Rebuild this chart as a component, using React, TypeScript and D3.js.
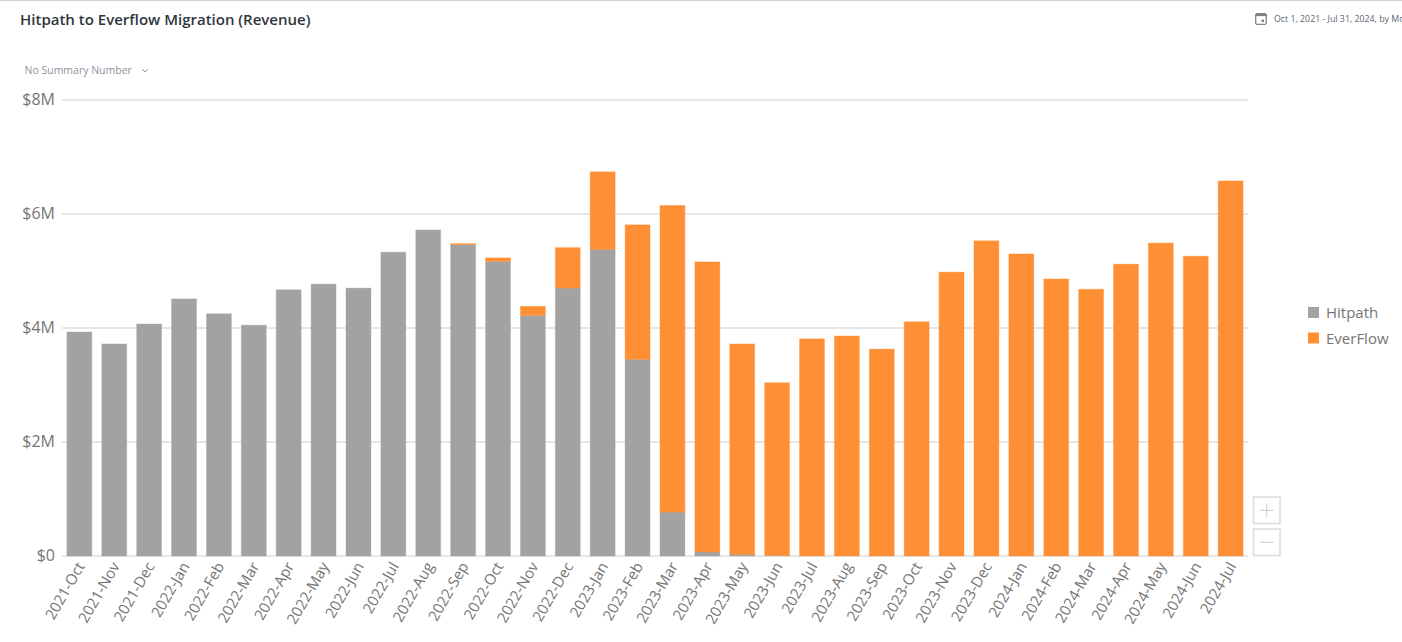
import React, { useEffect, useRef } from 'react';
import * as d3 from 'd3';

const months = [
  '2021-Oct', '2021-Nov', '2021-Dec', '2022-Jan', '2022-Feb', '2022-Mar', '2022-Apr', '2022-May', '2022-Jun',
  '2022-Jul', '2022-Aug', '2022-Sep', '2022-Oct', '2022-Nov', '2022-Dec', '2023-Jan', '2023-Feb', '2023-Mar',
  '2023-Apr', '2023-May', '2023-Jun', '2023-Jul', '2023-Aug', '2023-Sep', '2023-Oct', '2023-Nov', '2023-Dec',
  '2024-Jan', '2024-Feb', '2024-Mar', '2024-Apr', '2024-May', '2024-Jun', '2024-Jul',
];
const hitpath = [
  3.93, 3.72, 4.07, 4.51, 4.25, 4.05, 4.67, 4.77, 4.7, 5.33, 5.72, 5.46, 5.17, 4.22, 4.7, 5.38, 3.45, 0.77,
  0.07, 0.03, 0.01, 0, 0, 0, 0, 0, 0, 0, 0, 0, 0, 0, 0, 0,
];
const everflow = [
  0, 0, 0, 0, 0, 0, 0, 0, 0, 0, 0, 0.02, 0.06, 0.16, 0.71, 1.36, 2.36, 5.38,
  5.09, 3.69, 3.03, 3.81, 3.86, 3.63, 4.11, 4.98, 5.53, 5.3, 4.86, 4.68, 5.12, 5.49, 5.26, 6.58,
];
const yTicks = [0, 2, 4, 6, 8];
const seriesNames = ['Hitpath', 'EverFlow'];
const seriesColors = ['#a2a2a2', '#ff8f35'];

const FONT = '"Open Sans", sans-serif';

export default function App() {
  const svgRef = useRef<SVGSVGElement>(null);
  const width = 1402;
  const height = 642;

  useEffect(() => {
    if (!svgRef.current) return;
    const svg = d3.select(svgRef.current);
    svg.selectAll('*').remove();
    svg.attr('font-family', FONT);

    // top border of the card
    svg.append('rect').attr('width', width).attr('height', 1).attr('fill', '#cfcfcf');

    svg.append('text')
      .attr('x', 20).attr('y', 25)
      .attr('font-size', 15).attr('font-weight', 600).attr('fill', '#2f3540')
      .text('Hitpath to Everflow Migration (Revenue)');

    // calendar icon
    const cal = svg.append('g').attr('transform', 'translate(1255,12)');
    cal.append('rect').attr('x', 0.7).attr('y', 1.7).attr('width', 10.6).attr('height', 10.6).attr('rx', 1.5)
      .attr('fill', 'none').attr('stroke', '#7d838c').attr('stroke-width', 1.3);
    cal.append('rect').attr('x', 0.7).attr('y', 1.7).attr('width', 10.6).attr('height', 2.4).attr('fill', '#7d838c');
    cal.append('rect').attr('x', 6.5).attr('y', 7.5).attr('width', 2.5).attr('height', 2.5).attr('fill', '#7d838c');

    svg.append('text')
      .attr('x', 1274).attr('y', 22)
      .attr('font-size', 8.8).attr('fill', '#5d6470')
      .text('Oct 1, 2021 - Jul 31, 2024, by Month');

    svg.append('text')
      .attr('x', 24.5).attr('y', 74)
      .attr('font-size', 10.5).attr('fill', '#8d93a0')
      .text('No Summary Number');
    svg.append('path')
      .attr('d', 'M142 69 l3 3 l3 -3')
      .attr('fill', 'none').attr('stroke', '#8d93a0').attr('stroke-width', 1);

    const x = d3.scaleBand<string>()
      .domain(months)
      .range([62, 1248])
      .paddingInner(0.285)
      .paddingOuter(0.14);
    const y = d3.scaleLinear().domain([0, 8]).range([556, 100]);

    // gridlines
    svg.append('g')
      .selectAll('line')
      .data(yTicks)
      .enter()
      .append('line')
      .attr('x1', 62).attr('x2', 1248)
      .attr('y1', d => y(d)).attr('y2', d => y(d))
      .attr('stroke', '#dedede').attr('stroke-width', 1.5);

    svg.append('g')
      .selectAll('text')
      .data(yTicks)
      .enter()
      .append('text')
      .attr('x', 55).attr('y', d => y(d) + 5)
      .attr('text-anchor', 'end')
      .attr('font-size', 16).attr('fill', '#757575')
      .text(d => `$${d === 0 ? 0 : d + 'M'}`);

    // stacked bars
    const rows = months.map((m, i) => ({ month: m, Hitpath: hitpath[i], EverFlow: everflow[i] }));
    const stack = d3.stack<any>().keys(seriesNames)(rows);
    stack.forEach((layer, li) => {
      svg.append('g')
        .selectAll('rect')
        .data(layer.filter(d => d[1] > d[0]))
        .enter()
        .append('rect')
        .attr('x', d => x(d.data.month)!)
        .attr('width', x.bandwidth())
        .attr('y', d => y(d[1]))
        .attr('height', d => y(d[0]) - y(d[1]))
        .attr('fill', seriesColors[li])
        .attr('stroke', seriesColors[li])
        .attr('stroke-opacity', 0.35)
        .attr('stroke-width', 1);
    });

    // month labels, rotated
    svg.append('g')
      .selectAll('text')
      .data(months)
      .enter()
      .append('text')
      .attr('transform', d => `translate(${x(d)! + x.bandwidth() / 2 + 6},566) rotate(-60)`)
      .attr('text-anchor', 'end')
      .attr('font-size', 15).attr('fill', '#757575')
      .text(d => d);

    // legend
    const legend = svg.append('g');
    seriesNames.forEach((name, i) => {
      legend.append('rect')
        .attr('x', 1308).attr('y', 307 + i * 25.5)
        .attr('width', 11).attr('height', 11)
        .attr('fill', seriesColors[i]);
      legend.append('text')
        .attr('x', 1326).attr('y', 318 + i * 25.5)
        .attr('font-size', 15).attr('fill', '#757575')
        .text(name);
    });

    // zoom buttons
    [{ top: 497, plus: true }, { top: 529, plus: false }].forEach(b => {
      svg.append('rect')
        .attr('x', 1253.5).attr('y', b.top).attr('width', 26.5).attr('height', 26.5)
        .attr('fill', '#fff').attr('stroke', '#dcdcdc').attr('stroke-width', 1.5);
      const cx = 1266.7;
      const cy = b.top + 13.3;
      svg.append('path')
        .attr('d', b.plus ? `M${cx - 7} ${cy} H${cx + 7} M${cx} ${cy - 7} V${cy + 7}` : `M${cx - 7} ${cy} H${cx + 7}`)
        .attr('stroke', '#d4d4d4').attr('stroke-width', 1.2).attr('fill', 'none');
    });
  }, []);

  return (
    <svg
      ref={svgRef}
      width={width}
      height={height}
      style={{ position: 'absolute', left: 0, top: 0, background: '#fff' }}
    />
  );
}
